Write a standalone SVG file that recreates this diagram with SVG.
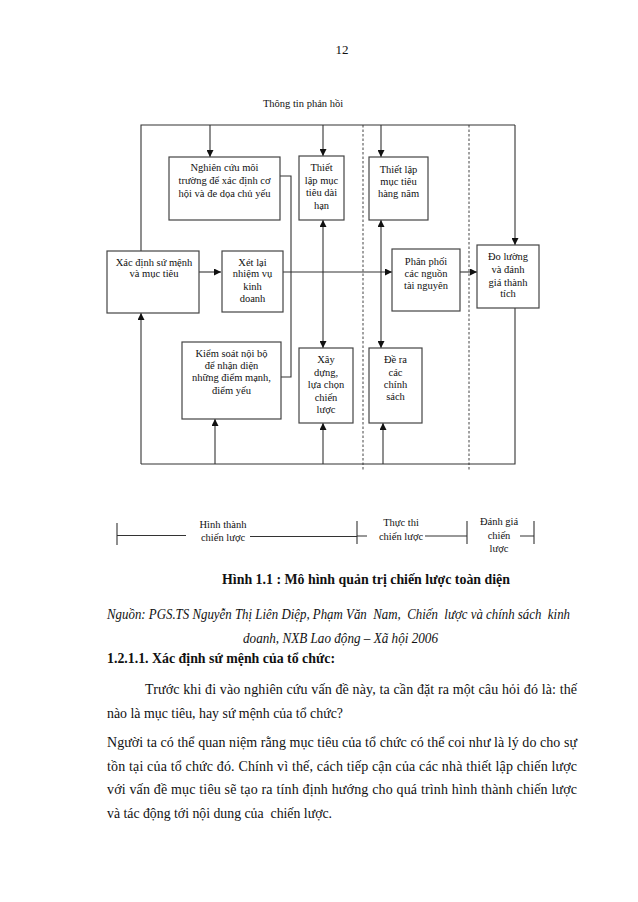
<svg xmlns="http://www.w3.org/2000/svg" width="638" height="902" viewBox="0 0 638 902">
<style>
text{font-family:"Liberation Serif","Times New Roman",serif;fill:#111}
.d{font-size:10.5px;text-anchor:middle}
.box{fill:#fff;stroke:#444;stroke-width:1.2}
.ln{fill:none;stroke:#333;stroke-width:1.1}
.dash{fill:none;stroke:#555;stroke-width:1.1;stroke-dasharray:2.5 2}
.b{font-size:14px}
.cap{font-size:14px;font-weight:bold}
.src{font-size:14px;font-style:italic}
</style>
<defs>
<marker id="ah" viewBox="0 0 8 8" refX="8" refY="4" markerWidth="7" markerHeight="7" markerUnits="userSpaceOnUse" orient="auto-start-reverse">
<path d="M0,0 L8,4 L0,8 z" fill="#111"/>
</marker>
</defs>
<rect width="638" height="902" fill="#fff"/>
<text x="342" y="54" style="font-size:13px" text-anchor="middle">12</text>
<text class="d" x="303" y="107">Thông tin phản hồi</text>

<g id="connectors">
<path class="dash" d="M363,125 V471"/>
<path class="dash" d="M469,125 V471"/>
<path class="ln" d="M141,251 V125 H515"/>
<path class="ln" d="M210,125 V157" marker-end="url(#ah)"/>
<path class="ln" d="M323,125 V156" marker-end="url(#ah)"/>
<path class="ln" d="M381,125 V157" marker-end="url(#ah)"/>
<path class="ln" d="M515,125 V245" marker-end="url(#ah)"/>
<path class="ln" d="M515,308 V464 H141"/>
<path class="ln" d="M141,464 V313" marker-end="url(#ah)"/>
<path class="ln" d="M215,464 V419" marker-end="url(#ah)"/>
<path class="ln" d="M323,464 V423" marker-end="url(#ah)"/>
<path class="ln" d="M383,464 V423" marker-end="url(#ah)"/>
<path class="ln" d="M199,272 H221" marker-end="url(#ah)"/>
<path class="ln" d="M283,272 H392" marker-end="url(#ah)"/>
<path class="ln" d="M460,272 H477" marker-end="url(#ah)"/>
<path class="ln" d="M323,220 V348" marker-start="url(#ah)" marker-end="url(#ah)"/>
<path class="ln" d="M381,220 V348" marker-start="url(#ah)" marker-end="url(#ah)"/>
<path class="ln" d="M280,176 H291 V377 H281"/>
</g>

<g id="n-nghiencuu">
<rect class="box" x="169" y="157" width="111" height="63"/>
<text class="d" x="224.5" y="171">Nghiên cứu môi</text>
<text class="d" x="224.5" y="184">trường để xác định cơ</text>
<text class="d" x="224.5" y="196.5">hội và đe dọa chủ yếu</text>
</g>
<g id="n-daihan">
<rect class="box" x="299" y="156" width="45" height="64"/>
<text class="d" x="321.5" y="170.5">Thiết</text>
<text class="d" x="321.5" y="183.5">lập mục</text>
<text class="d" x="321.5" y="196">tiêu dài</text>
<text class="d" x="321.5" y="208.5">hạn</text>
</g>
<g id="n-hangnam">
<rect class="box" x="369" y="157" width="59" height="63"/>
<text class="d" x="398.5" y="172.5">Thiết lập</text>
<text class="d" x="398.5" y="185">mục tiêu</text>
<text class="d" x="398.5" y="197">hàng năm</text>
</g>
<g id="n-xacdinh">
<rect class="box" x="107" y="251" width="92" height="62"/>
<text class="d" x="154" y="265.5">Xác định sứ mệnh</text>
<text class="d" x="154" y="277">và mục tiêu</text>
</g>
<g id="n-xetlai">
<rect class="box" x="222" y="251" width="61" height="61"/>
<text class="d" x="252.5" y="265.5">Xét lại</text>
<text class="d" x="252.5" y="277">nhiệm vụ</text>
<text class="d" x="252.5" y="289.5">kinh</text>
<text class="d" x="252.5" y="301.5">doanh</text>
</g>
<g id="n-phanphoi">
<rect class="box" x="392" y="249" width="68" height="62"/>
<text class="d" x="426" y="264.5">Phân phối</text>
<text class="d" x="426" y="277">các nguồn</text>
<text class="d" x="426" y="289">tài nguyên</text>
</g>
<g id="n-doluong">
<rect class="box" x="477" y="245" width="62" height="63"/>
<text class="d" x="508" y="259.5">Đo lường</text>
<text class="d" x="508" y="272.5">và đánh</text>
<text class="d" x="508" y="285.5">giá thành</text>
<text class="d" x="508" y="297">tích</text>
</g>
<g id="n-kiemsoat">
<rect class="box" x="182" y="342" width="99" height="77"/>
<text class="d" x="231.5" y="356.5">Kiểm soát nội bộ</text>
<text class="d" x="231.5" y="368.5">để nhận diện</text>
<text class="d" x="231.5" y="381">những điểm mạnh,</text>
<text class="d" x="231.5" y="393.5">điểm yếu</text>
</g>
<g id="n-xaydung">
<rect class="box" x="299" y="348" width="54" height="75"/>
<text class="d" x="326" y="362.5">Xây</text>
<text class="d" x="326" y="375.5">dựng,</text>
<text class="d" x="326" y="387.5">lựa chọn</text>
<text class="d" x="326" y="400.5">chiến</text>
<text class="d" x="326" y="412.5">lược</text>
</g>
<g id="n-dera">
<rect class="box" x="369" y="348" width="53" height="75"/>
<text class="d" x="395.5" y="362.5">Đề ra</text>
<text class="d" x="395.5" y="375.5">các</text>
<text class="d" x="395.5" y="387.5">chính</text>
<text class="d" x="395.5" y="399.5">sách</text>
</g>

<g id="timeline">
<path class="ln" d="M117,523 V545 M117,535.5 H186 M250,536.5 H357 M357,521 V544 M357,536 H367 M425,536 H467 M467,521 V544 M520,536 H534 M534,521 V544"/>
<text class="d" x="223" y="527.5">Hình thành</text>
<text class="d" x="223" y="540.5">chiến lược</text>
<text class="d" x="401" y="525.5">Thực thi</text>
<text class="d" x="401" y="539.5">chiến lược</text>
<text class="d" x="499" y="524.5">Đánh giá</text>
<text class="d" x="499" y="538.5">chiến</text>
<text class="d" x="499" y="551.5">lược</text>
</g>

<text class="cap" x="222" y="584" textLength="288" lengthAdjust="spacingAndGlyphs">Hình 1.1 : Mô hình quản trị chiến lược toàn diện</text>
<text class="src" x="107" y="619" textLength="463" lengthAdjust="spacingAndGlyphs" xml:space="preserve">Nguồn: PGS.TS Nguyễn Thị Liên Diệp, Phạm Văn  Nam,  Chiến  lược và chính sách  kinh</text>
<text class="src" x="243" y="643" textLength="195" lengthAdjust="spacingAndGlyphs">doanh, NXB Lao động – Xã hội 2006</text>
<text class="cap" x="107" y="663" textLength="228" lengthAdjust="spacingAndGlyphs">1.2.1.1. Xác định sứ mệnh của tổ chức:</text>
<text class="b" x="145" y="694" textLength="432" lengthAdjust="spacing">Trước khi đi vào nghiên cứu vấn đề này, ta cần đặt ra một câu hỏi đó là: thế</text>
<text class="b" x="107" y="718" textLength="236" lengthAdjust="spacingAndGlyphs">nào là mục tiêu, hay sứ mệnh của tổ chức?</text>
<text class="b" x="107" y="747" textLength="470" lengthAdjust="spacing">Người ta có thể quan niệm rằng mục tiêu của tổ chức có thể coi như là lý do cho sự</text>
<text class="b" x="107" y="771" textLength="470" lengthAdjust="spacing">tồn tại của tổ chức đó. Chính vì thế, cách tiếp cận của các nhà thiết lập chiến lược</text>
<text class="b" x="107" y="794" textLength="470" lengthAdjust="spacing">với vấn đề mục tiêu sẽ tạo ra tính định hướng cho quá trình hình thành chiến lược</text>
<text class="b" x="107" y="818" textLength="225" lengthAdjust="spacingAndGlyphs" xml:space="preserve">và tác động tới nội dung của  chiến lược.</text>
</svg>
